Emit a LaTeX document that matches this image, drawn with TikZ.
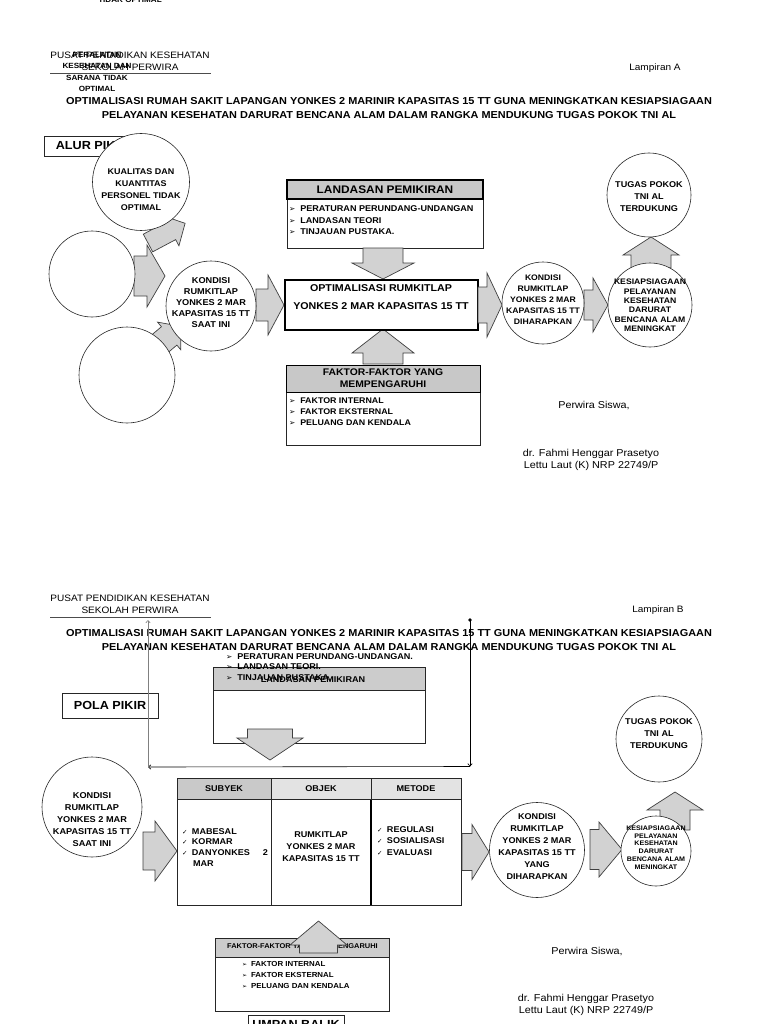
\documentclass[tikz,border=0pt]{standalone}
\usepackage{fontspec}
\setmainfont{Liberation Sans}[FakeStretch=1.08]
\newfontfamily\djv{DejaVu Sans}
\usetikzlibrary{arrows.meta}
\newcommand\fs[2]{\fontsize{#1}{#2}\selectfont}
\newcommand\bul{{\djv\fontsize{7.5}{8}\selectfont ➢}}
\newcommand\chk{{\djv\fontsize{6.5}{7}\selectfont ✓}}
\newcommand\blkarr[7]{%
  \begin{scope}[shift={(#1,#2)},rotate=#3]
    \draw[barrowsty] (0,-#5) -- ({#4-#7},-#5) -- ({#4-#7},-#6) -- (#4,0) -- ({#4-#7},#6) -- ({#4-#7},#5) -- (0,#5) -- cycle;
  \end{scope}}
\begin{document}
\begin{tikzpicture}[x=1pt,y=-1pt,
  every node/.style={inner sep=0pt, outer sep=0pt},
  reg/.style={font=\fs{9.3}{11}},
  sig/.style={font=\fs{10}{12}},
  ttl/.style={font=\bfseries\fs{10.1}{13}},
  circ/.style={circle, draw=black!85, line width=0.6pt, fill=white},
  ctxt/.style={align=center, font=\bfseries\fs{8.5}{12}},
  box/.style={draw=black!85, line width=0.7pt, fill=white, anchor=north west},
  hbox/.style={draw=black, line width=1.5pt, fill=gray!43, anchor=north west},
  itm/.style={anchor=west, font=\bfseries\fs{8.4}{10}, text height=6pt, text depth=0pt},
  barrowsty/.style={fill=gray!35, draw=black!75, line width=0.7pt, line join=miter},
  lbl/.style={draw=black!85, line width=0.8pt, fill=white, anchor=north west, font=\bfseries\fs{11.7}{14}},
  brk/.style={line width=0.6pt},
  tip/.style={-{Straight Barb[length=2.5pt,width=4.5pt]}}
]
\useasboundingbox (0,0) rectangle (768,1024);
\fill[white] (0,0) rectangle (768,1024);

% ================= TOP : LAMPIRAN A =================
\node[font=\bfseries\fs{7.5}{9}] (cutA) at (130,-0.5) {TIDAK OPTIMAL};
\node[reg] (pusA) at (130,55) {PUSAT PENDIDIKAN KESEHATAN};
\node[reg] (sekA) at (130,67) {SEKOLAH PERWIRA};
\draw[line width=0.5pt, black!70] (50,73) -- (211,73);
\node[align=center, font=\bfseries\fs{7.5}{11.3}] (hidA) at (97,72) {PERALATAN\\KESEHATAN DAN\\SARANA TIDAK\\OPTIMAL};
\node[reg] (lampA) at (655,68) {Lampiran A};
\node[ttl] (t1A) at (389,101) {OPTIMALISASI RUMAH SAKIT LAPANGAN YONKES 2 MARINIR KAPASITAS 15 TT GUNA MENINGKATKAN KESIAPSIAGAAN};
\node[ttl] (t2A) at (389,115) {PELAYANAN KESEHATAN DARURAT BENCANA ALAM DALAM RANGKA MENDUKUNG TUGAS POKOK TNI AL};

\node[lbl, minimum width=96, minimum height=20] (alur) at (44,136) {ALUR PIKIR};

% block arrows (left)
\blkarr{134}{276}{0}{31}{20}{31}{18}
\blkarr{148}{243}{28}{42}{10}{17}{16}
\blkarr{150}{352}{40}{40}{12}{18}{15}
\blkarr{256}{305}{0}{28}{16}{30}{16}

\node[circ, minimum size=86] (e1A) at (92,274) {};
\node[circ, minimum size=96] (e2A) at (127,375) {};
\node[circ, minimum size=97] (kualA) at (141,182) {};
\node[ctxt, font=\bfseries\fs{8.3}{12}] (kualAt) at (141,190) {KUALITAS DAN\\KUANTITAS\\PERSONEL TIDAK\\OPTIMAL};
\node[circ, minimum size=90] (konA) at (211,306) {};
\node[ctxt, font=\bfseries\fs{8.5}{11}] (konAt) at (211,303) {KONDISI\\RUMKITLAP\\YONKES 2 MAR\\KAPASITAS 15 TT\\SAAT INI};

% landasan pemikiran
\node[box, minimum width=196, minimum height=49] (landAb) at (287,199) {};
\node[hbox, minimum width=196, minimum height=19] (landA) at (287,180) {};
\node[font=\bfseries\fs{11}{13}] (landAt) at (385,189.5) {LANDASAN PEMIKIRAN};
\node[itm] (la1) at (289,209) {\bul\hspace{5pt}PERATURAN PERUNDANG-UNDANGAN};
\node[itm] (la2) at (289,220) {\bul\hspace{5pt}LANDASAN TEORI};
\node[itm] (la3) at (289,231) {\bul\hspace{5pt}TINJAUAN PUSTAKA.};

\blkarr{383}{248}{-90}{31}{20}{31}{16}
\blkarr{383}{364}{90}{35}{20}{31}{24}

% main box
\node[box, draw=black, line width=1.6pt, minimum width=193, minimum height=50] (mainA) at (285,280) {};
\node[align=center, font=\bfseries\fs{9.9}{18}] (mainAt) at (381,297) {OPTIMALISASI RUMKITLAP\\YONKES 2 MAR KAPASITAS 15 TT};

% faktor
\node[box, minimum width=194, minimum height=53] (fakAb) at (286,392) {};
\node[hbox, line width=1pt, minimum width=194, minimum height=27] (fakA) at (286,365) {};
\node[align=center, font=\bfseries\fs{9.6}{12}] (fakAt) at (383,378) {FAKTOR-FAKTOR YANG\\MEMPENGARUHI};
\node[itm, font=\bfseries\fs{8.2}{10}] (fa1) at (289,400) {\bul\hspace{5pt}FAKTOR INTERNAL};
\node[itm, font=\bfseries\fs{8.2}{10}] (fa2) at (289,411) {\bul\hspace{5pt}FAKTOR EKSTERNAL};
\node[itm, font=\bfseries\fs{8.2}{10}] (fa3) at (289,422) {\bul\hspace{5pt}PELUANG DAN KENDALA};

% right side
\blkarr{478}{305}{0}{24}{18}{32}{15}
\blkarr{584}{305}{0}{24}{15}{27}{15}
\blkarr{651}{268}{90}{31}{20}{28}{18}
\node[circ, minimum size=82] (dhA) at (543,303) {};
\node[ctxt, font=\bfseries\fs{8}{11}] (dhAt) at (543,299.5) {KONDISI\\RUMKITLAP\\YONKES 2 MAR\\KAPASITAS 15 TT\\DIHARAPKAN};
\node[circ, minimum size=84] (ksA) at (650,305) {};
\node[ctxt, font=\bfseries\fs{8}{9.4}] (ksAt) at (650,305.5) {KESIAPSIAGAAN\\PELAYANAN\\KESEHATAN\\DARURAT\\BENCANA ALAM\\MENINGKAT};
\node[circ, minimum size=84] (tgA) at (649,195) {};
\node[ctxt, font=\bfseries\fs{8.4}{12}] (tgAt) at (649,197) {TUGAS POKOK\\TNI AL\\TERDUKUNG};

\node[sig] (pwA) at (594,406) {Perwira Siswa,};
\node[sig] (drA) at (591,454) {dr. Fahmi Henggar Prasetyo};
\node[sig] (ltA) at (591,466) {Lettu Laut (K) NRP 22749/P};

% ================= BOTTOM : LAMPIRAN B =================
\node[reg] (pusB) at (130,598) {PUSAT PENDIDIKAN KESEHATAN};
\node[reg] (sekB) at (130,610) {SEKOLAH PERWIRA};
\draw[line width=0.5pt, black!70] (50,617) -- (211,617);
\node[reg] (lampB) at (658,610) {Lampiran B};
\node[ttl] (t1B) at (389,633) {OPTIMALISASI RUMAH SAKIT LAPANGAN YONKES 2 MARINIR KAPASITAS 15 TT GUNA MENINGKATKAN KESIAPSIAGAAN};
\node[ttl] (t2B) at (389,647) {PELAYANAN KESEHATAN DARURAT BENCANA ALAM DALAM RANGKA MENDUKUNG TUGAS POKOK TNI AL};

\node[lbl, minimum width=96, minimum height=25] (pola) at (62,693) {POLA PIKIR};

% landasan B
\node[box, minimum width=212, minimum height=53] (landBb) at (213,690) {};
\node[box, fill=gray!40, line width=0.9pt, minimum width=212, minimum height=23] (landB) at (213,667) {};
\node[font=\bfseries\fs{8.4}{10}] (landBt) at (313,680) {LANDASAN PEMIKIRAN};
\node[itm] (lb1) at (226,656) {\bul\hspace{5pt}PERATURAN PERUNDANG-UNDANGAN.};
\node[itm] (lb2) at (226,666) {\bul\hspace{5pt}LANDASAN TEORI.};
\node[itm] (lb3) at (226,677) {\bul\hspace{5pt}TINJAUAN PUSTAKA.};
\blkarr{270}{729}{-90}{31}{22.5}{33}{22}

% left circle B
\blkarr{143}{851}{0}{34}{19}{30}{22}
\node[circ, minimum size=100] (konB) at (92,807) {};
\node[ctxt, font=\bfseries\fs{8.5}{12.2}] (konBt) at (92,819.5) {KONDISI\\RUMKITLAP\\YONKES 2 MAR\\KAPASITAS 15 TT\\SAAT INI};

% table
\node[box, minimum width=94, minimum height=106] (subBb) at (177,799) {};
\node[box, minimum width=100, minimum height=106] (objBb) at (271,799) {};
\node[box, minimum width=90, minimum height=106] (metBb) at (371,799) {};
\draw[line width=1.4pt] (metBb.north west) -- (metBb.south west);
\node[box, fill=gray!42, line width=0.9pt, minimum width=94, minimum height=21] (subB) at (177,778) {};
\node[box, fill=gray!22, line width=0.9pt, minimum width=100, minimum height=21] (objB) at (271,778) {};
\node[box, fill=gray!22, line width=0.9pt, minimum width=90, minimum height=21] (metB) at (371,778) {};
\node[font=\bfseries\fs{8.4}{10}] (subBt) at (subB.center) {SUBYEK};
\node[font=\bfseries\fs{8.4}{10}] (objBt) at (objB.center) {OBJEK};
\node[font=\bfseries\fs{8.4}{10}] (metBt) at (metB.center) {METODE};
\node[itm] (s1) at (182,831) {\chk\hspace{4.5pt}MABESAL};
\node[itm] (s2) at (182,841) {\chk\hspace{4.5pt}KORMAR};
\node[itm] (s3) at (182,852.5) {\chk\hspace{4.5pt}DANYONKES};
\node[itm, anchor=east] (s3b) at (268,852.5) {2};
\node[itm] (s4) at (193,863) {MAR};
\node[align=center, font=\bfseries\fs{8.4}{12}] (objBx) at (321,847) {RUMKITLAP\\YONKES 2 MAR\\KAPASITAS 15 TT};
\node[itm] (m1) at (377,829.5) {\chk\hspace{4.5pt}REGULASI};
\node[itm] (m2) at (377,840) {\chk\hspace{4.5pt}SOSIALISASI};
\node[itm] (m3) at (377,852) {\chk\hspace{4.5pt}EVALUASI};

% right side B
\blkarr{462}{852}{0}{27}{18.5}{27.5}{17}
\blkarr{590}{849.5}{0}{32}{20}{27.5}{23}
\blkarr{675}{830}{90}{38}{15}{28}{18}
\node[circ, minimum size=95] (dhB) at (537,850) {};
\node[ctxt, font=\bfseries\fs{8.4}{12}] (dhBt) at (537,847) {KONDISI\\RUMKITLAP\\YONKES 2 MAR\\KAPASITAS 15 TT\\YANG\\DIHARAPKAN};
\node[circ, minimum size=70] (ksB) at (656,851) {};
\node[ctxt, font=\bfseries\fs{6.6}{7.8}] (ksBt) at (656,847.5) {KESIAPSIAGAAN\\PELAYANAN\\KESEHATAN\\DARURAT\\BENCANA ALAM\\MENINGKAT};
\node[circ, minimum size=86] (tgB) at (659,739) {};
\node[ctxt, font=\bfseries\fs{8.4}{12}] (tgBt) at (659,734) {TUGAS POKOK\\TNI AL\\TERDUKUNG};

% faktor B
\node[box, minimum width=174, minimum height=54] (fakBb) at (215,957) {};
\node[box, fill=gray!40, line width=0.9pt, minimum width=174, minimum height=19] (fakB) at (215,938) {};
\node[font=\bfseries\fs{6.9}{8}] (fakBt) at (302.5,946.5) {FAKTOR-FAKTOR YANG MEMPENGARUHI};
\blkarr{318.5}{953}{90}{32}{19}{28.5}{24}
\node[itm, font=\bfseries\fs{7.3}{9}, text height=5.3pt] (fb1) at (242,964) {{\djv\fontsize{6}{7}\selectfont ➢}\hspace{4pt}FAKTOR INTERNAL};
\node[itm, font=\bfseries\fs{7.3}{9}, text height=5.3pt] (fb2) at (242,975) {{\djv\fontsize{6}{7}\selectfont ➢}\hspace{4pt}FAKTOR EKSTERNAL};
\node[itm, font=\bfseries\fs{7.3}{9}, text height=5.3pt] (fb3) at (242,985.5) {{\djv\fontsize{6}{7}\selectfont ➢}\hspace{4pt}PELUANG DAN KENDALA};

\node[lbl, minimum width=96, minimum height=30] (umpan) at (248,1015) {};
\node[font=\bfseries\fs{11.7}{14}] (umpant) at (296,1024.5) {UMPAN BALIK};

\node[sig] (pwB) at (587,952) {Perwira Siswa,};
\node[sig] (drB) at (586,999) {dr. Fahmi Henggar Prasetyo};
\node[sig] (ltB) at (586,1011) {Lettu Laut (K) NRP 22749/P};

% feedback bracket lines
\coordinate (dotB) at (470,620);
\coordinate (cR) at (470,766.5);
\coordinate (cL) at (148,767);
\coordinate (tL) at (148,620);
\fill (dotB) circle (1.9);
\draw[brk, tip] (dotB) -- (cR);
\draw[brk, tip] (cR) -- (cL);
\draw[brk, draw=gray, tip] (cL) -- (tL);
\end{tikzpicture}
\end{document}
